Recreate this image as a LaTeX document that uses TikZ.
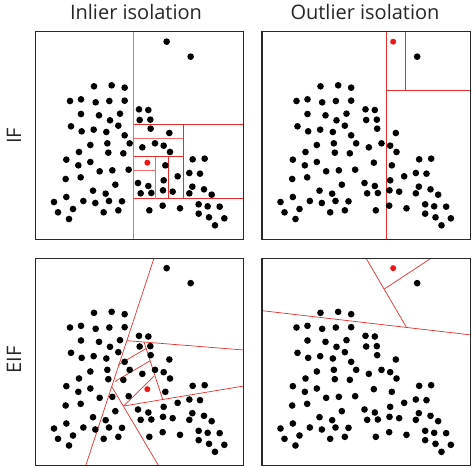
\documentclass[tikz,border=0pt]{standalone}
\usepackage{fontspec}
\setmainfont{Open Sans}
\definecolor{lred}{RGB}{232,45,45}
\definecolor{pred}{RGB}{240,110,110}
\definecolor{dred}{RGB}{240,20,20}
\definecolor{frm}{RGB}{40,40,40}
\newcommand\mydots{%
\foreach \p/\q in {482/95,
192/184, 245/181, 284/188,
120/228, 153/223, 197/232, 238/228, 284/227,
327/253, 355/255,
153/267, 207/271, 270/266,
329/285, 361/284,
240/286,
123/304, 265/302,
155/319, 191/314, 229/321,
362/311,
284/331, 418/324,
232/355, 299/355, 181/360, 375/355, 401/362,
337/367,
147/381, 235/383, 280/385, 420/381,
109/404, 181/411, 145/421,
488/403, 524/401,
406/421,
209/439, 247/436, 296/434,
478/444, 510/446,
443/454,
107/462, 152/457,
401/466,
256/479,
324/474, 355/483,
487/485,
189/497, 227/506,
399/496, 428/500,
522/493,
332/505, 364/504,
478/505, 545/509,
109/516,
72/531, 160/528, 196/534, 237/528, 276/529,
398/542, 358/556,
450/550,
506/538, 533/544, 569/545,
84/562, 129/552, 221/562, 265/556,
506/566, 537/577, 583/580,
117/582,
555/601}{\fill[black] (\p,\q) circle[radius=10];}}
\begin{document}
\begin{tikzpicture}[x=1pt,y=-1pt,
  part/.style={lred, line width=0.7pt},
  ppart/.style={pred, line width=1pt},
  frame/.style={frm, line width=1.2pt},
  lab/.style={font=\fontsize{20}{24}\selectfont, text=black!85, inner sep=0pt}]
\useasboundingbox (0,0) rectangle (474,468);
\node[lab, anchor=base] (t1) at (136,20) {Inlier isolation};
\node[lab, anchor=base] (t2) at (365,20) {Outlier isolation};
\node[lab, rotate=90] (l1) at (14,136) {IF};
\node[lab, rotate=90] (l2) at (14,360) {EIF};
% Panel 1: IF inlier
\begin{scope}[shift={(30,25)}, scale=1/3]
\draw[ppart] (311,20) -- (311,643);
\draw[part] (311,297) -- (641,297);
\draw[part] (311,521) -- (641,521);
\draw[part] (460,297) -- (460,521);
\draw[ppart] (311,340) -- (460,340);
\draw[part] (311,395) -- (460,395);
\draw[ppart] (376,395) -- (376,521);
\draw[part, line width=0.9pt] (415,395) -- (415,521);
\draw[ppart] (311,436) -- (376,436);
\mydots
\fill[black] (410,50) circle[radius=10];
\fill[dred] (352,413) circle[radius=9];
\draw[frame] (16.5,20) rectangle (641,643);
\end{scope}
% Panel 2: IF outlier
\begin{scope}[shift={(256.5,25)}, scale=1/3]
\draw[part] (390.5,20) -- (390.5,643);
\draw[part] (390.5,197) -- (641,197);
\draw[part] (445.5,20) -- (445.5,197);
\mydots
\fill[black] (352,413) circle[radius=10];
\fill[dred] (410,50) circle[radius=9];
\draw[frame] (16.5,20) rectangle (641,643);
\end{scope}
% Panel 3: EIF inlier
\begin{scope}[shift={(30,251.5)}, scale=1/3]
\draw[part] (372,20) -- (167,643);
\draw[part] (291,267.5) -- (641,295.5);
\draw[part] (245.5,405.5) -- (386,643);
\draw[part] (281,463.5) -- (641,403.5);
\draw[part] (342,271.5) -- (398,443.5);
\draw[part] (265,340) -- (350,290);
\draw[part] (255,390) -- (360,328);
\draw[part] (281,463.5) -- (372,374);
\mydots
\fill[black] (410,50) circle[radius=10];
\fill[dred] (352,413) circle[radius=9];
\draw[frame] (16.5,20) rectangle (641,643);
\end{scope}
% Panel 4: EIF outlier
\begin{scope}[shift={(256.5,251.5)}, scale=1/3]
\draw[part] (16.5,177.5) -- (641,250);
\draw[part] (328.5,20) -- (450.5,228.5);
\draw[part] (383.5,112.5) -- (524,20);
\mydots
\fill[black] (352,413) circle[radius=10];
\fill[dred] (410,50) circle[radius=9];
\draw[frame] (16.5,20) rectangle (641,643);
\end{scope}
\end{tikzpicture}
\end{document}
